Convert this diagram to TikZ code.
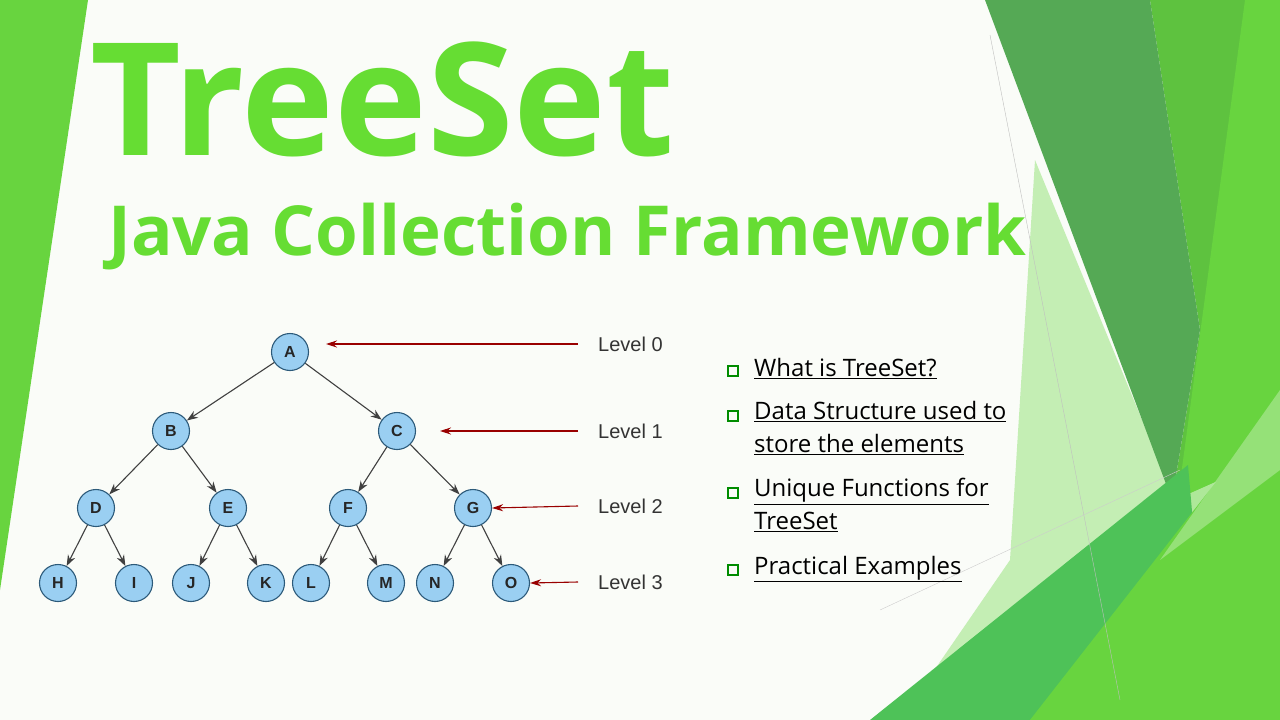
\documentclass[tikz,border=0pt]{standalone}
\usepackage{fontspec}
\setmainfont{Open Sans}
\newfontfamily\arialf{Liberation Sans}
\newfontfamily\bulf{Open Sans}
\usetikzlibrary{arrows.meta}
\newcommand{\ul}[1]{\underline{#1}}
\begin{document}
\begin{tikzpicture}[x=1pt,y=-1pt,
  tn/.style={circle,draw=nodeb,line width=1.1pt,fill=nodef,minimum size=37pt,inner sep=0pt,font=\arialf\bfseries\fontsize{16}{16}\selectfont,text=black!85},
  ed/.style={-{Stealth[length=11pt,width=8pt]},draw=black!75,line width=1.1pt},
  lv/.style={-{Stealth[length=11pt,width=7pt]},draw=red!60!black,line width=1.1pt},
  lt/.style={anchor=west,inner sep=0pt,font=\arialf\fontsize{20}{20}\selectfont,text=black!80},
  bt/.style={anchor=west,align=left,inner sep=0pt,font=\bulf\fontsize{24}{33}\selectfont,text=black},
  bx/.style={draw=green!55!black,line width=1.2pt,minimum size=10pt,inner sep=0pt}]
\definecolor{bg}{HTML}{FAFCF8}
\definecolor{g1}{HTML}{68D43F}
\definecolor{g2}{HTML}{55A955}
\definecolor{g3}{HTML}{5EC23F}
\definecolor{g4}{HTML}{4EC258}
\definecolor{tg}{HTML}{66DD33}
\definecolor{nodef}{HTML}{9ACFF2}
\definecolor{nodeb}{HTML}{2C5A7A}
\useasboundingbox (0,0) rectangle (1280,720);
\fill[bg] (0,0) rectangle (1280,720);
% left strip
\fill[g1] (0,0) -- (88,0) -- (0,590) -- cycle;
% right shapes
\fill[g3] (1150,0) -- (1280,0) -- (1280,720) -- (1150,720) -- (1172,500) -- (1200,330) -- cycle;
\fill[g1] (1245,0) -- (1280,0) -- (1280,720) -- (1190,720) -- (1175,520) -- cycle;
\fill[g1!45!white,opacity=0.85] (1035,160) -- (1175,500) -- (1220,480) -- (1120,720) -- (900,720) -- (1010,560) -- cycle;
\fill[g2] (985,0) -- (1150,0) -- (1200,330) -- (1172,500) -- cycle;
\fill[g4] (870,720) -- (1188,465) -- (1210,720) -- cycle;
\fill[g1] (1030,720) -- (1280,400) -- (1280,720) -- cycle;
\fill[g1!50!white,opacity=0.6] (1160,560) -- (1280,390) -- (1280,470) -- cycle;
\draw[black!25,line width=0.4pt] (990,35) -- (1120,700);
\draw[black!20,line width=0.4pt] (880,610) -- (1180,470);
% titles
\node[anchor=base west,inner sep=0,text=tg,font=\bfseries\fontsize{157}{157}\selectfont] (t1) at (90,155) {TreeSet};
\node[anchor=base west,inner sep=0,text=tg,font=\bfseries\fontsize{69}{69}\selectfont] (t2) at (108,255) {Java Collection Framework};
% tree
\node[tn] (A) at (290,352) {A};
\node[tn] (B) at (171,431) {B};
\node[tn] (C) at (397,431) {C};
\node[tn] (D) at (96,508) {D};
\node[tn] (E) at (228,508) {E};
\node[tn] (F) at (348,508) {F};
\node[tn] (G) at (473,508) {G};
\node[tn] (H) at (58,583) {H};
\node[tn] (I) at (134,583) {I};
\node[tn] (J) at (191,583) {J};
\node[tn] (K) at (266,583) {K};
\node[tn] (L) at (311,583) {L};
\node[tn] (M) at (386,583) {M};
\node[tn] (N) at (435,583) {N};
\node[tn] (O) at (511,583) {O};
\foreach \p/\c in {A/B,A/C,B/D,B/E,C/F,C/G,D/H,D/I,E/J,E/K,F/L,F/M,G/N,G/O}
  \draw[ed] (\p) -- (\c);
% levels
\node[lt] (l0) at (598,344) {Level 0};
\node[lt] (l1) at (598,431) {Level 1};
\node[lt] (l2) at (598,506) {Level 2};
\node[lt] (l3) at (598,582) {Level 3};
\coordinate (a0) at (326,344);
\coordinate (a1) at (440,431);
\draw[lv] ([xshift=-20pt]l0.west) -- (a0);
\draw[lv] ([xshift=-20pt]l1.west) -- (a1);
\draw[lv] ([xshift=-20pt]l2.west) -- (G.east);
\draw[lv] ([xshift=-20pt]l3.west) -- (O.east);
% bullets
\node[bx] (b1) at (733,371) {};
\node[bt] (t3) at (754,369) {\ul{What is TreeSet?}};
\node[bx] (b2) at (733,416) {};
\node[bt,anchor=north west] (t4) at (754,401) {\ul{Data Structure used to}\\\ul{store the elements}};
\node[bx] (b3) at (733,493) {};
\node[bt,anchor=north west] (t5) at (754,478) {\ul{Unique Functions for}\\\ul{TreeSet}};
\node[bx] (b4) at (733,570) {};
\node[bt] (t6) at (754,569) {\ul{Practical Examples}};
\end{tikzpicture}
\end{document}
